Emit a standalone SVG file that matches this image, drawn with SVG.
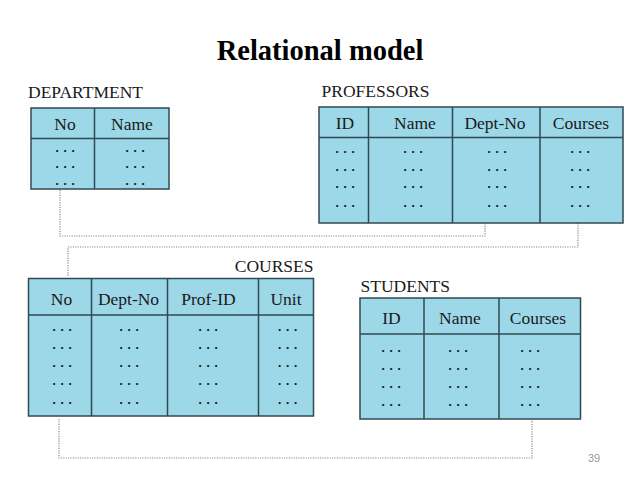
<svg xmlns="http://www.w3.org/2000/svg" width="638" height="478" viewBox="0 0 638 478">
<style>
.bg{fill:#fff}
.tbl{fill:#9dd8e9;stroke:#2f4a52;stroke-width:1.5}
.ln{stroke:#2f4a52;stroke-width:1.5}
.t{font-family:"Liberation Serif","Times New Roman",serif;font-size:17.5px;fill:#1a1a1a}
.h{text-anchor:middle}
.d{font-family:"Liberation Serif","Times New Roman",serif;font-size:13px;font-weight:bold;letter-spacing:4.75px;fill:#111;text-anchor:middle}
.title{font-family:"Liberation Serif","Times New Roman",serif;font-size:28.5px;font-weight:bold;fill:#000;text-anchor:middle}
.conn{fill:none;stroke:#8a8a8a;stroke-width:1.2;stroke-dasharray:1.2 1.2}
.pg{font-family:"Liberation Sans",Arial,sans-serif;font-size:11px;fill:#9a9a9a;text-anchor:middle}
</style>
<rect class="bg" x="0" y="0" width="638" height="478"/>
<text class="title" x="320" y="60">Relational model</text>

<g id="connectors">
<path class="conn" d="M60,190 V236 H485 V223"/>
<path class="conn" d="M578,223 V247 H68 V277"/>
<path class="conn" d="M59,419 V458 H532 V420"/>
</g>

<g id="department">
<text class="t" x="28" y="98">DEPARTMENT</text>
<rect class="tbl" x="31" y="108" width="138" height="81"/>
<line class="ln" x1="31" y1="138.5" x2="169" y2="138.5"/>
<line class="ln" x1="94.5" y1="108" x2="94.5" y2="189"/>
<text class="t h" x="65" y="130">No</text>
<text class="t h" x="132" y="130">Name</text>
<g transform="translate(2.4,0)">
<text class="d" x="65" y="151.5">...</text><text class="d" x="135" y="151.5">...</text>
<text class="d" x="65" y="168">...</text><text class="d" x="135" y="168">...</text>
<text class="d" x="65" y="184.5">...</text><text class="d" x="135" y="184.5">...</text>
</g>
</g>

<g id="professors">
<text class="t" x="321.5" y="97">PROFESSORS</text>
<rect class="tbl" x="319" y="107" width="304" height="116"/>
<line class="ln" x1="319" y1="137.5" x2="623" y2="137.5"/>
<line class="ln" x1="368.5" y1="107" x2="368.5" y2="223"/>
<line class="ln" x1="452.5" y1="107" x2="452.5" y2="223"/>
<line class="ln" x1="540" y1="107" x2="540" y2="223"/>
<text class="t h" x="345" y="129">ID</text>
<text class="t h" x="415" y="129">Name</text>
<text class="t h" x="495" y="129">Dept-No</text>
<text class="t h" x="581" y="129">Courses</text>
<g transform="translate(2.4,0)">
<text class="d" x="345" y="152.5">...</text><text class="d" x="413" y="152.5">...</text><text class="d" x="497" y="152.5">...</text><text class="d" x="580" y="152.5">...</text>
<text class="d" x="345" y="170.5">...</text><text class="d" x="413" y="170.5">...</text><text class="d" x="497" y="170.5">...</text><text class="d" x="580" y="170.5">...</text>
<text class="d" x="345" y="188">...</text><text class="d" x="413" y="188">...</text><text class="d" x="497" y="188">...</text><text class="d" x="580" y="188">...</text>
<text class="d" x="345" y="206.5">...</text><text class="d" x="413" y="206.5">...</text><text class="d" x="497" y="206.5">...</text><text class="d" x="580" y="206.5">...</text>
</g>
</g>

<g id="courses">
<text class="t" x="313.5" y="272" text-anchor="end">COURSES</text>
<rect class="tbl" x="28.5" y="278.5" width="285" height="137.5"/>
<line class="ln" x1="28.5" y1="315" x2="313.5" y2="315"/>
<line class="ln" x1="91.5" y1="278.5" x2="91.5" y2="416"/>
<line class="ln" x1="167.5" y1="278.5" x2="167.5" y2="416"/>
<line class="ln" x1="258.5" y1="278.5" x2="258.5" y2="416"/>
<text class="t h" x="61.5" y="305">No</text>
<text class="t h" x="128.5" y="305">Dept-No</text>
<text class="t h" x="208.5" y="305">Prof-ID</text>
<text class="t h" x="286" y="305">Unit</text>
<g transform="translate(2.4,0)">
<text class="d" x="62" y="330.5">...</text><text class="d" x="129" y="330.5">...</text><text class="d" x="208" y="330.5">...</text><text class="d" x="287.5" y="330.5">...</text>
<text class="d" x="62" y="348.5">...</text><text class="d" x="129" y="348.5">...</text><text class="d" x="208" y="348.5">...</text><text class="d" x="287.5" y="348.5">...</text>
<text class="d" x="62" y="366.5">...</text><text class="d" x="129" y="366.5">...</text><text class="d" x="208" y="366.5">...</text><text class="d" x="287.5" y="366.5">...</text>
<text class="d" x="62" y="384.5">...</text><text class="d" x="129" y="384.5">...</text><text class="d" x="208" y="384.5">...</text><text class="d" x="287.5" y="384.5">...</text>
<text class="d" x="62" y="403.5">...</text><text class="d" x="129" y="403.5">...</text><text class="d" x="208" y="403.5">...</text><text class="d" x="287.5" y="403.5">...</text>
</g>
</g>

<g id="students">
<text class="t" x="360.5" y="292">STUDENTS</text>
<rect class="tbl" x="360" y="298" width="220.5" height="121"/>
<line class="ln" x1="360" y1="334" x2="580.5" y2="334"/>
<line class="ln" x1="424" y1="298" x2="424" y2="419"/>
<line class="ln" x1="499" y1="298" x2="499" y2="419"/>
<text class="t h" x="391.5" y="323.5">ID</text>
<text class="t h" x="460" y="323.5">Name</text>
<text class="t h" x="538" y="323.5">Courses</text>
<g transform="translate(2.4,0)">
<text class="d" x="391" y="351.5">...</text><text class="d" x="458" y="351.5">...</text><text class="d" x="530" y="351.5">...</text>
<text class="d" x="391" y="369.5">...</text><text class="d" x="458" y="369.5">...</text><text class="d" x="530" y="369.5">...</text>
<text class="d" x="391" y="387.5">...</text><text class="d" x="458" y="387.5">...</text><text class="d" x="530" y="387.5">...</text>
<text class="d" x="391" y="405.5">...</text><text class="d" x="458" y="405.5">...</text><text class="d" x="530" y="405.5">...</text>
</g>
</g>

<text class="pg" x="594" y="462">39</text>
</svg>
